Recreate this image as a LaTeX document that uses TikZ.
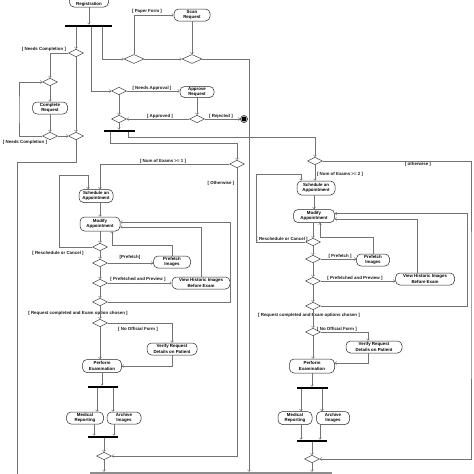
\documentclass[tikz,border=0pt]{standalone}
\usepackage{fontspec}
\setmainfont{Liberation Sans}
\usetikzlibrary{arrows.meta,shapes.geometric,calc}
\begin{document}
\begin{tikzpicture}[x=1pt,y=-1pt,
  font=\fontsize{4.4}{5.6}\selectfont\bfseries,
  act/.style={draw=black!85, line width=0.5pt, rounded corners=4.5pt, align=center, inner sep=0.5pt, minimum height=12pt, fill=white},
  dec/.style={draw=black!80, line width=0.45pt, diamond, aspect=2, minimum width=15pt, minimum height=7.5pt, inner sep=0pt, fill=white},
  bigdec/.style={dec, minimum width=20pt, minimum height=9pt},
  bar/.style={fill=black, inner sep=0pt, minimum height=2.4pt},
  lab/.style={inner sep=0.5pt, text=black!90},
  arr/.style={draw=black!55, line width=0.45pt, -{Straight Barb[length=1.6pt,width=2.8pt]}},
  ln/.style={draw=black!55, line width=0.45pt},
]
\useasboundingbox (0,0) rectangle (474,474);
\clip (0,0) rectangle (474,474);
\fill[white] (0,0) rectangle (474,474);

% ---------- top part ----------
\node[act, minimum width=39pt, minimum height=14pt, text height=10pt, text depth=0pt] (reg) at (89,0) {Registration};
\node[bar, minimum width=47pt] (F1) at (88.5,26) {};
\node[dec] (D1) at (76,53) {};
\node[dec] (M1) at (50,82) {};
\node[act, minimum width=35pt] (comp) at (50,108) {Complete\\Request};
\node[dec] (D2) at (50,136) {};
\node[dec] (M2) at (76,136) {};
\node[bigdec] (M3) at (134,59) {};
\node[bigdec] (M4) at (192,59) {};
\node[act, minimum width=36pt] (scan) at (192,15) {Scan\\Request};
\node[dec] (D3) at (119,91) {};
\node[act, minimum width=34pt, minimum height=11pt] (appr) at (197,92) {Approve\\Request};
\node[dec] (D4) at (197,119) {};
\node[dec] (M5) at (119,119) {};
\node[circle, draw=black, line width=0.5pt, minimum size=7pt, inner sep=0pt] (fin) at (244,119) {};
\node[circle, fill=black, minimum size=5pt, inner sep=0pt] (fin2) at (fin) {};
\node[bar, minimum width=31pt] (F2) at (119.5,131) {};
\node[fill=black!45, inner sep=0pt, minimum width=242pt, minimum height=4pt] (Fbot) at (211,474) {};

\node[lab] (lpaper) at (147,11) {[ Paper Form ]};
\node[lab] (lnc1) at (44,49) {[ Needs Completion ]};
\node[lab] (lnc2) at (25,142) {[ Needs Completion ]};
\node[lab] (lna) at (152,88) {[ Needs Approval ]};
\node[lab] (lapp) at (160,116) {[ Approved ]};
\node[lab] (lrej) at (221,116) {[ Rejected ]};

% ---------- left lane ----------
\node[dec] (D5) at (237,164) {};
\node[act, minimum width=34pt, minimum height=13pt] (sch) at (96,196) {Schedule an\\Appointment};
\node[act, minimum width=40pt, minimum height=14pt] (mod) at (100,224) {Modify\\Appointment};
\node[dec] (D7) at (100,247) {};
\node[dec] (D8) at (100,263) {};
\node[dec] (D9) at (100,283) {};
\node[dec] (D10) at (100,302) {};
\node[dec] (D11) at (100,323) {};
\node[act, minimum width=37pt] (pre) at (172,262) {Prefetch\\Images};
\node[act, minimum width=58pt] (view) at (201,283) {View Historic Images\\Before Exam};
\node[act, minimum width=50pt] (ver) at (172,349) {Verify Request\\Details on Patient};
\node[act, minimum width=39pt, minimum height=13pt] (perf) at (102,366) {Perform\\Examination};
\node[bar, minimum width=30pt] (F3) at (103,387) {};
\node[act, minimum width=37pt] (med) at (85,418) {Medical\\Reporting};
\node[act, minimum width=34pt] (arch) at (124,418) {Archive\\Images};
\node[bar, minimum width=30pt] (F4) at (103,437) {};
\node[dec] (Me) at (104,456) {};

\node[lab] (lne1) at (163,161) {[ Num of Exams >= 1 ]};
\node[lab] (loth1) at (221,183) {[ Otherwise ]};
\node[lab] (lres1) at (58,253) {[ Reschedule or Cancel ]};
\node[lab] (lpre1) at (130,257) {[Prefetch]};
\node[lab] (lpp1) at (138,279) {[ Prefetched and Preview ]};
\node[lab] (lrc1) at (78,313) {[ Request completed and Exam option chosen ]};
\node[lab] (lnof1) at (138,329) {[ No Official Form ]};

% ---------- right lane ----------
\node[dec] (D6) at (315,161) {};
\node[act, minimum width=38pt, minimum height=14pt] (sch2) at (316,188) {Schedule an\\Appointment};
\node[act, minimum width=41pt, minimum height=13pt] (mod2) at (314,216) {Modify\\Appointment};
\node[dec] (E7) at (313,242) {};
\node[dec] (E8) at (313,259) {};
\node[dec] (E9) at (313,281) {};
\node[dec] (E10) at (313,306) {};
\node[dec] (E11) at (313,332) {};
\node[act, minimum width=33pt] (pre2) at (373,260) {Prefetch\\Images};
\node[act, minimum width=59pt] (view2) at (425,279) {View Historic Images\\Before Exam};
\node[act, minimum width=56pt] (ver2) at (374,347) {Verify Request\\Details on Patient};
\node[act, minimum width=45pt, minimum height=14pt] (perf2) at (312,366) {Perform\\Examination};
\node[bar, minimum width=31pt] (G3) at (312,388) {};
\node[act, minimum width=34pt, minimum height=13pt] (med2) at (295,418) {Medical\\Reporting};
\node[act, minimum width=33pt, minimum height=13pt] (arch2) at (333,418) {Archive\\Images};
\node[bar, minimum width=30pt] (G4) at (312,441) {};
\node[dec] (Me2) at (312,459) {};

\node[lab] (loth2) at (418,164) {[ otherwise ]};
\node[lab] (lne2) at (340,174) {[ Num of Exams >= 2 ]};
\node[lab] (lres2) at (282,239) {[ Reschedule or Cancel ]};
\node[lab] (lpre2) at (340,256) {[ Prefetch ]};
\node[lab] (lpp2) at (355,278) {[ Prefetched and Preview ]};
\node[lab] (lrc2) at (309,315) {[ Request completed and Exam options chosen ]};
\node[lab] (lnof2) at (337,329) {[ No Official Form ]};

% ---------- coordinates for bends ----------
\coordinate (f1b) at (102,27.2);
\coordinate (f1c) at (91,27.2);
\coordinate (k1) at (19,110);
\coordinate (k22) at (17,162);
\coordinate (k23) at (17,480);
\coordinate (k24) at (249,0);
\coordinate (f2a) at (110,132.2);
\coordinate (k2) at (110,143);
\coordinate (f2b) at (128,132.2);
\coordinate (k3) at (128,137.5);
\coordinate (k4) at (59,175);
\coordinate (k5) at (112,245);
\coordinate (k6) at (230,222);
\coordinate (k7) at (201,227);
\coordinate (k18) at (97,0);
\coordinate (k19) at (113,0);
\coordinate (k20) at (94,0);
\coordinate (k21) at (114,0);
\coordinate (k9) at (471,300);
\coordinate (k10) at (256,174);
\coordinate (k11) at (320,237);
\coordinate (k12) at (417,219);
\coordinate (k13) at (467,213.5);
\coordinate (k14) at (368,0);
\coordinate (k15) at (301,0);
\coordinate (k16) at (322,0);
\coordinate (k17) at (320,0);

% ---------- top connectors ----------
\draw[arr] (reg.south) -- (reg.south |- F1.north);
\draw[arr] (D1.north |- F1.south) -- (D1.north);
\draw[arr] (D1.west) -| (M1.north);
\draw[arr] (M1.south) -- (comp.north);
\draw[arr] (comp.south) -- (D2.north);
\draw[arr] (D2.west) -| (k1) |- (M1.west);
\draw[arr] (D2.east) -- (M2.west);
\draw[arr] (D1.south) -- (M2.north);
\draw[ln] (M2.south) |- (k22) -- (k23);
\draw[arr] (f1b) |- (M3.west);
\draw[arr] (M3.north) |- (scan.west);
\draw[arr] (M3.east) -- (M4.west);
\draw[arr] (scan.south) -- (M4.north);
\draw[arr] (M4.east) -| (Fbot.north -| k24);
\draw[arr] (f1c) |- (D3.west);
\draw[arr] (D3.east) -- (D3.east -| appr.west);
\draw[arr] (appr.south) -- (D4.north);
\draw[arr] (D4.west) -- (M5.east);
\draw[arr] (D4.east) -- (fin.west);
\draw[arr] (D3.south) -- (M5.north);
\draw[arr] (M5.south) -- (M5.south |- F2.north);
\draw[arr] (f2a) -- (k2) -| (D5.north);
\draw[arr] (f2b) -- (k3) -| (D6.north);

% ---------- left lane connectors ----------
\draw[arr] (D5.west) -| ([xshift=4pt]sch.north);
\draw[arr] (D5.south) |- (Me.east);
\draw[arr] (mod.north |- sch.south) -- (mod.north);
\draw[arr] (mod.south) -- (D7.north);
\draw[arr] (D7.west) -| (k4) -| ([xshift=-8pt]sch.north);
\draw[arr] (D7.south) -- (D8.north);
\draw[arr] (D8.east) -- (D8.east -| pre.west);
\draw[arr] (pre.north) |- (k5) -- (k5 |- mod.south);
\draw[arr] (D8.south) -- (D9.north);
\draw[arr] (D9.east) -- (view.west);
\draw[arr] (view.north) -- (k7) -- (k7 -| mod.east);
\draw[arr] (D9.south) -- (D10.north);
\draw[arr] (D10.east) -| (k6) -- (k6 -| mod.east);
\draw[arr] (D10.south) -- (D11.north);
\draw[arr] (D11.east) -| (ver.north);
\draw[arr] (D11.south) -- (D11.south |- perf.north);
\draw[arr] (ver.south) |- (perf.east);
\draw[arr] (perf.south) -- (perf.south |- F3.north);
\draw[arr] (F3.south -| k18) -- (med.north -| k18);
\draw[arr] (F3.south -| k19) -- (arch.north -| k19);
\draw[arr] (med.south -| k20) -- (F4.north -| k20);
\draw[arr] (arch.south -| k21) -- (F4.north -| k21);
\draw[arr] (F4.south -| Me.north) -- (Me.north);
\draw[arr] (Me.south) -- (Me.south |- Fbot.north);

% ---------- right lane connectors ----------
\draw[arr] (D6.east) -| (k9) |- (Me2.east);
\draw[arr] (D6.south) -- (D6.south |- sch2.north);
\draw[arr] (mod2.north |- sch2.south) -- (mod2.north);
\draw[arr] (mod2.south -| E7.north) -- (E7.north);
\draw[arr] (E7.west) -| (k10) -| ([xshift=-15pt]sch2.north);
\draw[arr] (E7.south) -- (E8.north);
\draw[arr] (E8.east) -- (E8.east -| pre2.west);
\draw[arr] (pre2.north) |- (k11) -- (k11 |- mod2.south);
\draw[arr] (E8.south) -- (E9.north);
\draw[arr] (E9.east) -- (E9.east -| view2.west);
\draw[arr] (view2.north -| k12) -- (k12) -- (k12 -| mod2.east);
\draw[arr] (E9.south) -- (E10.north);
\draw[arr] (E10.east) -| (k13) -- (k13 -| mod2.east);
\draw[arr] (E10.south) -- (E11.north);
\draw[arr] (E11.east) -| (ver2.north -| k14);
\draw[arr] (E11.south) -- (E11.south |- perf2.north);
\draw[arr] (ver2.south -| k14) |- ([yshift=3pt]perf2.east);
\draw[arr] (perf2.south) -- (perf2.south |- G3.north);
\draw[arr] (G3.south -| k15) -- (med2.north -| k15);
\draw[arr] (G3.south -| k16) -- (arch2.north -| k16);
\draw[arr] (med2.south -| k15) -- (G4.north -| k15);
\draw[arr] (arch2.south -| k17) -- (G4.north -| k17);
\draw[arr] (G4.south -| Me2.north) -- (Me2.north);
\draw[arr] (Me2.south) -- (Me2.south |- Fbot.north);
\end{tikzpicture}
\end{document}
